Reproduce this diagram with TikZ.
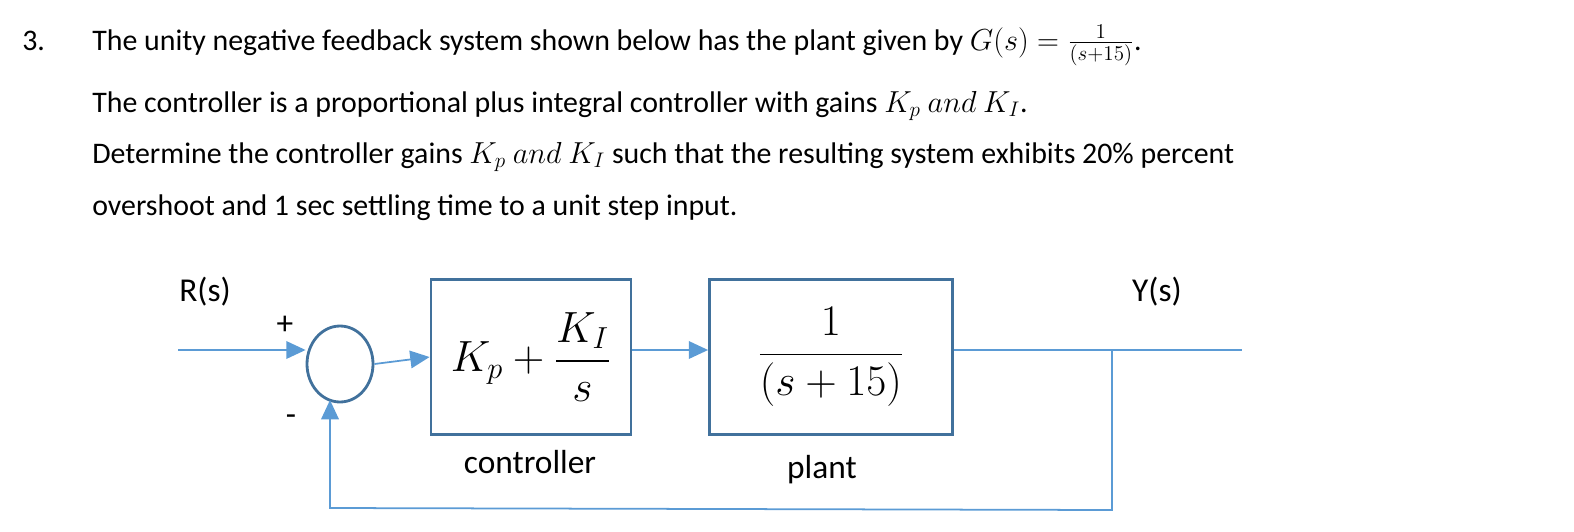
\documentclass[tikz,border=0pt]{standalone}
\usepackage{amsmath}
\usepackage{fontspec}
\setmainfont{Carlito}
\usetikzlibrary{positioning, arrows.meta, shapes.geometric}
\definecolor{sigblue}{RGB}{91,155,213}
\definecolor{boxblue}{RGB}{65,113,156}
\tikzset{
x=0.02cm, y=-0.02cm,
sig/.style={draw=sigblue, line width=1pt}, % signal lines
sigarr/.style={sig, -{Triangle[length=11pt,width=10pt]}}, % signal arrows
block/.style={draw=boxblue, line width=1.6pt, minimum width=200*0.02cm, minimum height=155*0.02cm, inner sep=0pt},
txt/.style={font=\fontsize{17}{20}\selectfont, anchor=base west, inner sep=0pt},
lbl/.style={font=\fontsize{19}{22}\selectfont, inner sep=0pt},
}
\begin{document}
\begin{tikzpicture}
        \useasboundingbox (0,0) rectangle (1574,531);
        \node[txt] (num) at (22,50) {3.};
        \node[txt] (l1) at (92,50) {The unity negative feedback system shown below has the plant given by $G(s) = \frac{1}{(s+15)}$.};
        \node[txt] (l2) at (92,112) {The controller is a proportional plus integral controller with gains $K_p$ $and$ $K_I$.};
        \node[txt] (l3) at (92,163) {Determine the controller gains $K_p$ $and$ $K_I$ such that the resulting system exhibits 20\% percent};
        \node[txt] (l4) at (92,215) {overshoot and 1 sec settling time to a unit step input.};

        \node[draw=boxblue, line width=1.6pt, ellipse, minimum width=66*0.02cm, minimum height=76*0.02cm] (sum) at (340,364) {};
        \node[block] (ctrl) at (531,357) {\fontsize{24}{28}\selectfont$K_p + \dfrac{K_I}{s}$};
        \node[block, minimum width=243*0.02cm] (plant) at (831,357) {\fontsize{24}{28}\selectfont$\dfrac{1}{(s+15)}$};
        \node[lbl] (ctrllbl) at (530,462) {controller};
        \node[lbl] (plantlbl) at (822,470) {plant};
        \node[lbl] (rin) at (205,292) {R(s)};
        \node[lbl] (yout) at (1157,292) {Y(s)};
        \node[lbl] (plus) at (285,325) {+};
        \node[lbl] (minus) at (291,420) {-};

        \coordinate (in) at (178,350);
        \coordinate (out) at (1242,350);
        \coordinate (tap) at (1112,350);
        \coordinate (fb1) at (1112,510);
        \coordinate (fb2) at (330,508);
        \coordinate (fbin) at (330,400);

        \draw[sigarr] (in) -- (sum.west |- in);
        \draw[sigarr] (sum.east) -- (ctrl.west);
        \draw[sigarr] (ctrl.east |- in) -- (plant.west |- in);
        \draw[sig] (plant.east |- in) -- (out);
        \draw[sigarr] (tap) -- (fb1) -- (fb2) -- (fbin);
\end{tikzpicture}
\end{document}
